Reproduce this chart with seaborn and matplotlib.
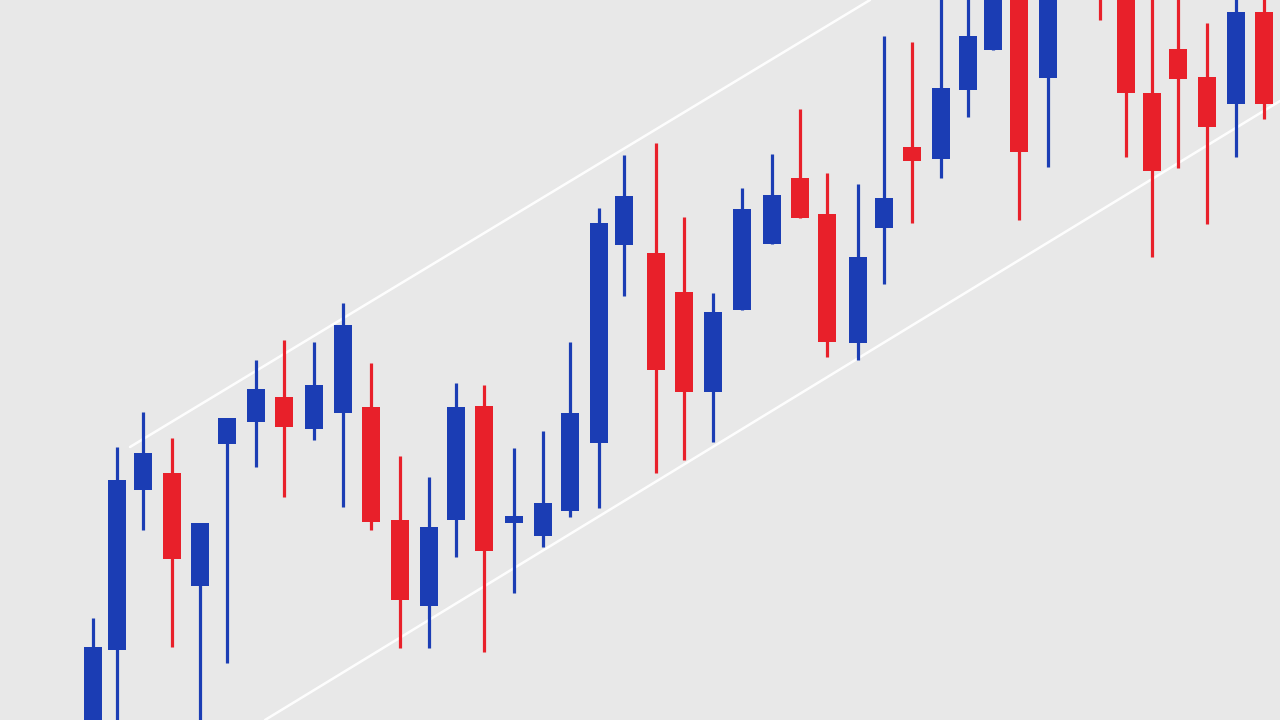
import matplotlib
matplotlib.use("Agg")
import matplotlib.pyplot as plt
import seaborn as sns
import numpy as np
import pandas as pd

# time positions of the candles (uneven spacing)
times  = [93, 117, 143, 172, 200, 227, 256, 284, 314, 343, 371, 400, 429, 456, 484, 514, 543, 570, 599, 624,
          656, 684, 713, 742, 772, 800, 827, 858, 884, 912, 941, 968, 993, 1019, 1048, 1074, 1100, 1126, 1152,
          1178, 1207, 1236, 1264]
# candle data (price units)
opens  = [-10, 70, 230, 247, 134, 276, 298, 323, 291, 307, 313, 200, 114, 200, 314, 197, 184, 209, 277, 475,
          467, 428, 328, 410, 476, 542, 506, 377, 492, 573, 561, 630, 670, 740, 642, 740, 780, 740, 627, 671,
          643, 616, 708]
closes = [73, 240, 267, 161, 197, 302, 331, 293, 335, 395, 198, 120, 193, 313, 169, 204, 217, 307, 497, 524,
          350, 328, 408, 511, 525, 502, 378, 463, 522, 559, 632, 684, 740, 568, 740, 770, 730, 627, 549, 641,
          593, 708, 616]
highs  = [102, 273, 308, 282, 197, 302, 360, 380, 378, 417, 357, 264, 243, 337, 335, 272, 289, 378, 512, 565,
          577, 503, 427, 532, 566, 611, 547, 536, 684, 678, 740, 745, 760, 760, 760, 790, 790, 760, 740, 740,
          697, 740, 740]
lows   = [-20, -20, 190, 73, -20, 57, 253, 223, 280, 213, 190, 72, 72, 163, 68, 127, 173, 203, 212, 424,
          247, 260, 278, 410, 476, 502, 363, 360, 436, 497, 542, 603, 670, 500, 553, 730, 700, 563, 463, 552,
          496, 563, 601]

# channel trend lines: (time, price) endpoints
upper_x = [130, 870]
upper_y = [273, 720]
lower_x = [265, 1280]
lower_y = [0, 619]

df = pd.DataFrame({"t": times, "open": opens, "close": closes, "high": highs, "low": lows})
df["up"] = df["close"] >= df["open"]

BLUE = "#1b3db4"
RED = "#e8202a"
BG = "#e8e8e8"

sns.set_theme(style="white", rc={"axes.facecolor": BG, "figure.facecolor": BG})

fig = plt.figure(figsize=(12.8, 7.2), dpi=100)
ax = fig.add_axes([0, 0, 1, 1])
ax.set_facecolor(BG)

# channel lines
sns.lineplot(x=upper_x, y=upper_y, ax=ax, color="white", lw=1.8, alpha=0.95, zorder=1)
sns.lineplot(x=lower_x, y=lower_y, ax=ax, color="white", lw=1.8, alpha=0.95, zorder=1)

colors = [BLUE if u else RED for u in df["up"]]
ax.vlines(df["t"], df["low"], df["high"], colors=colors, linewidth=2.3, zorder=2)
bottoms = np.minimum(df["open"], df["close"])
heights = np.maximum(np.abs(df["close"] - df["open"]), 4)
ax.bar(df["t"], heights, bottom=bottoms, width=18, color=colors, zorder=3, linewidth=0)

ax.set_xlim(0, 1280)
ax.set_ylim(0, 720)
ax.axis("off")

fig.savefig("out.png", dpi=100, facecolor=BG)
